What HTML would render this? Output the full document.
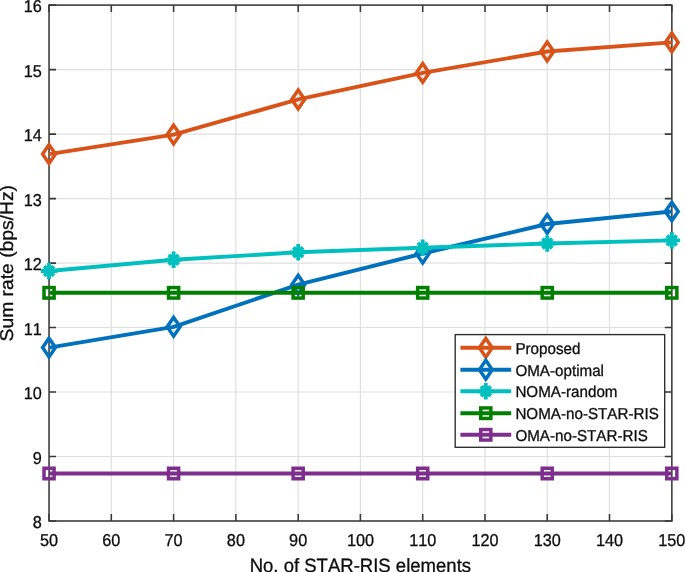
<!DOCTYPE html>
<html lang="en"><head><meta charset="utf-8"><title>Sum rate vs No. of STAR-RIS elements</title>
<style>
html,body{margin:0;padding:0;background:#fff;}
body{width:685px;height:572px;overflow:hidden;}
svg{display:block;font-kerning:none;text-rendering:geometricPrecision;font-family:"Liberation Sans",Arial,Helvetica,sans-serif;fill:#0d0d0d;}
text{stroke:#0d0d0d;stroke-width:0.3px;}
.tk{font-size:17.2px;}
.lb{font-size:19.3px;}
.lg{font-size:15.8px;}
</style></head><body>
<svg width="685" height="572" viewBox="0 0 685 572">
<rect width="685" height="572" fill="#fff"/>
<path d="M111.3 5.1V521.0M173.6 5.1V521.0M235.9 5.1V521.0M298.2 5.1V521.0M360.4 5.1V521.0M422.7 5.1V521.0M485.0 5.1V521.0M547.2 5.1V521.0M609.5 5.1V521.0M49.05 456.5H671.8M49.05 392.0H671.8M49.05 327.5H671.8M49.05 263.1H671.8M49.05 198.6H671.8M49.05 134.1H671.8M49.05 69.6H671.8" stroke="#dfdfdf" stroke-width="1.2" fill="none"/>
<path d="M49.0 521.0v-7.0M49.0 5.1v7.0M111.3 521.0v-7.0M111.3 5.1v7.0M173.6 521.0v-7.0M173.6 5.1v7.0M235.9 521.0v-7.0M235.9 5.1v7.0M298.2 521.0v-7.0M298.2 5.1v7.0M360.4 521.0v-7.0M360.4 5.1v7.0M422.7 521.0v-7.0M422.7 5.1v7.0M485.0 521.0v-7.0M485.0 5.1v7.0M547.2 521.0v-7.0M547.2 5.1v7.0M609.5 521.0v-7.0M609.5 5.1v7.0M671.8 521.0v-7.0M671.8 5.1v7.0M49.05 521.0h7.0M671.8 521.0h-7.0M49.05 456.5h7.0M671.8 456.5h-7.0M49.05 392.0h7.0M671.8 392.0h-7.0M49.05 327.5h7.0M671.8 327.5h-7.0M49.05 263.1h7.0M671.8 263.1h-7.0M49.05 198.6h7.0M671.8 198.6h-7.0M49.05 134.1h7.0M671.8 134.1h-7.0M49.05 69.6h7.0M671.8 69.6h-7.0M49.05 5.1h7.0M671.8 5.1h-7.0" stroke="#383838" stroke-width="1.55" fill="none"/>
<rect x="49.05" y="5.1" width="622.8" height="515.9" fill="none" stroke="#383838" stroke-width="1.55"/>
<text class="tk" transform="translate(49.05 546.20) scale(0.945 1)" text-anchor="middle">50</text>
<text class="tk" transform="translate(111.33 546.20) scale(0.945 1)" text-anchor="middle">60</text>
<text class="tk" transform="translate(173.60 546.20) scale(0.945 1)" text-anchor="middle">70</text>
<text class="tk" transform="translate(235.88 546.20) scale(0.945 1)" text-anchor="middle">80</text>
<text class="tk" transform="translate(298.15 546.20) scale(0.945 1)" text-anchor="middle">90</text>
<text class="tk" transform="translate(360.43 546.20) scale(0.945 1)" text-anchor="middle">100</text>
<text class="tk" transform="translate(422.70 546.20) scale(0.945 1)" text-anchor="middle">110</text>
<text class="tk" transform="translate(484.97 546.20) scale(0.945 1)" text-anchor="middle">120</text>
<text class="tk" transform="translate(547.25 546.20) scale(0.945 1)" text-anchor="middle">130</text>
<text class="tk" transform="translate(609.52 546.20) scale(0.945 1)" text-anchor="middle">140</text>
<text class="tk" transform="translate(671.80 546.20) scale(0.945 1)" text-anchor="middle">150</text>
<text class="tk" transform="translate(41.80 528.00) scale(0.945 1)" text-anchor="end">8</text>
<text class="tk" transform="translate(41.80 463.51) scale(0.945 1)" text-anchor="end">9</text>
<text class="tk" transform="translate(41.80 399.02) scale(0.945 1)" text-anchor="end">10</text>
<text class="tk" transform="translate(41.80 334.54) scale(0.945 1)" text-anchor="end">11</text>
<text class="tk" transform="translate(41.80 270.05) scale(0.945 1)" text-anchor="end">12</text>
<text class="tk" transform="translate(41.80 205.56) scale(0.945 1)" text-anchor="end">13</text>
<text class="tk" transform="translate(41.80 141.07) scale(0.945 1)" text-anchor="end">14</text>
<text class="tk" transform="translate(41.80 76.59) scale(0.945 1)" text-anchor="end">15</text>
<text class="tk" transform="translate(41.80 12.10) scale(0.945 1)" text-anchor="end">16</text>
<text class="lb" transform="translate(360.35 571.80) scale(0.961 1)" text-anchor="middle">No. of STAR-RIS elements</text>
<text class="lb" transform="translate(13.40 263.20) rotate(-90) scale(1 0.961)" text-anchor="middle">Sum rate (bps/Hz)</text>
<g><polyline points="49.0,154.1 173.6,134.6 298.2,99.4 422.7,72.9 547.2,51.5 671.8,42.4" fill="none" stroke="#d95319" stroke-width="3.9" stroke-linejoin="round"/>
<path d="M49.0 144.8L55.5 154.1L49.0 163.4L42.6 154.1Z" fill="none" stroke="#d95319" stroke-width="3.5" stroke-linejoin="miter"/>
<path d="M173.6 125.2L180.1 134.6L173.6 143.9L167.2 134.6Z" fill="none" stroke="#d95319" stroke-width="3.5" stroke-linejoin="miter"/>
<path d="M298.2 90.1L304.6 99.4L298.2 108.8L291.7 99.4Z" fill="none" stroke="#d95319" stroke-width="3.5" stroke-linejoin="miter"/>
<path d="M422.7 63.6L429.1 72.9L422.7 82.2L416.2 72.9Z" fill="none" stroke="#d95319" stroke-width="3.5" stroke-linejoin="miter"/>
<path d="M547.2 42.1L553.7 51.5L547.2 60.9L540.8 51.5Z" fill="none" stroke="#d95319" stroke-width="3.5" stroke-linejoin="miter"/>
<path d="M671.8 33.0L678.2 42.4L671.8 51.8L665.3 42.4Z" fill="none" stroke="#d95319" stroke-width="3.5" stroke-linejoin="miter"/>
</g>
<g><polyline points="49.0,347.6 173.6,326.8 298.2,284.7 422.7,253.5 547.2,224.0 671.8,211.5" fill="none" stroke="#0072bd" stroke-width="3.9" stroke-linejoin="round"/>
<path d="M49.0 338.2L55.5 347.6L49.0 357.0L42.6 347.6Z" fill="none" stroke="#0072bd" stroke-width="3.5" stroke-linejoin="miter"/>
<path d="M173.6 317.4L180.1 326.8L173.6 336.2L167.2 326.8Z" fill="none" stroke="#0072bd" stroke-width="3.5" stroke-linejoin="miter"/>
<path d="M298.2 275.3L304.6 284.7L298.2 294.1L291.7 284.7Z" fill="none" stroke="#0072bd" stroke-width="3.5" stroke-linejoin="miter"/>
<path d="M422.7 244.2L429.1 253.5L422.7 262.9L416.2 253.5Z" fill="none" stroke="#0072bd" stroke-width="3.5" stroke-linejoin="miter"/>
<path d="M547.2 214.7L553.7 224.0L547.2 233.3L540.8 224.0Z" fill="none" stroke="#0072bd" stroke-width="3.5" stroke-linejoin="miter"/>
<path d="M671.8 202.2L678.2 211.5L671.8 220.8L665.3 211.5Z" fill="none" stroke="#0072bd" stroke-width="3.5" stroke-linejoin="miter"/>
</g>
<g><polyline points="49.0,271.0 173.6,259.8 298.2,252.3 422.7,247.8 547.2,243.5 671.8,240.4" fill="none" stroke="#00bfbf" stroke-width="3.9" stroke-linejoin="round"/>
<path d="M40.8 271.0H57.3M49.0 262.7V279.3M44.1 266.1L53.9 275.9M44.1 275.9L53.9 266.1" fill="none" stroke="#00bfbf" stroke-width="3.85"/>
<path d="M165.3 259.8H181.9M173.6 251.5V268.1M168.7 254.9L178.5 264.7M168.7 264.7L178.5 254.9" fill="none" stroke="#00bfbf" stroke-width="3.85"/>
<path d="M289.9 252.3H306.5M298.2 244.0V260.6M293.3 247.4L303.1 257.2M293.3 257.2L303.1 247.4" fill="none" stroke="#00bfbf" stroke-width="3.85"/>
<path d="M414.4 247.8H431.0M422.7 239.5V256.1M417.8 242.9L427.6 252.7M417.8 252.7L427.6 242.9" fill="none" stroke="#00bfbf" stroke-width="3.85"/>
<path d="M539.0 243.5H555.5M547.2 235.2V251.8M542.4 238.6L552.1 248.4M542.4 248.4L552.1 238.6" fill="none" stroke="#00bfbf" stroke-width="3.85"/>
<path d="M663.5 240.4H680.1M671.8 232.1V248.7M666.9 235.5L676.7 245.3M666.9 245.3L676.7 235.5" fill="none" stroke="#00bfbf" stroke-width="3.85"/>
</g>
<g><polyline points="49.0,292.8 173.6,292.8 298.2,292.8 422.7,292.8 547.2,292.8 671.8,292.8" fill="none" stroke="#007f00" stroke-width="3.9" stroke-linejoin="round"/>
<rect x="44.00" y="287.55" width="10.1" height="10.5" fill="none" stroke="#007f00" stroke-width="3.5"/>
<rect x="168.55" y="287.55" width="10.1" height="10.5" fill="none" stroke="#007f00" stroke-width="3.5"/>
<rect x="293.10" y="287.55" width="10.1" height="10.5" fill="none" stroke="#007f00" stroke-width="3.5"/>
<rect x="417.65" y="287.55" width="10.1" height="10.5" fill="none" stroke="#007f00" stroke-width="3.5"/>
<rect x="542.20" y="287.55" width="10.1" height="10.5" fill="none" stroke="#007f00" stroke-width="3.5"/>
<rect x="666.75" y="287.55" width="10.1" height="10.5" fill="none" stroke="#007f00" stroke-width="3.5"/>
</g>
<g><polyline points="49.0,473.5 173.6,473.5 298.2,473.5 422.7,473.5 547.2,473.5 671.8,473.5" fill="none" stroke="#7e2f8e" stroke-width="3.9" stroke-linejoin="round"/>
<rect x="44.00" y="468.25" width="10.1" height="10.5" fill="none" stroke="#7e2f8e" stroke-width="3.5"/>
<rect x="168.55" y="468.25" width="10.1" height="10.5" fill="none" stroke="#7e2f8e" stroke-width="3.5"/>
<rect x="293.10" y="468.25" width="10.1" height="10.5" fill="none" stroke="#7e2f8e" stroke-width="3.5"/>
<rect x="417.65" y="468.25" width="10.1" height="10.5" fill="none" stroke="#7e2f8e" stroke-width="3.5"/>
<rect x="542.20" y="468.25" width="10.1" height="10.5" fill="none" stroke="#7e2f8e" stroke-width="3.5"/>
<rect x="666.75" y="468.25" width="10.1" height="10.5" fill="none" stroke="#7e2f8e" stroke-width="3.5"/>
</g>
<rect x="455.2" y="334.6" width="209.5" height="112.7" fill="#fff" stroke="#2b2b2b" stroke-width="1.35"/>
<path d="M460.4 347.8H511.2" stroke="#d95319" stroke-width="3.9" fill="none"/>
<path d="M485.8 338.4L492.2 347.8L485.8 357.2L479.4 347.8Z" fill="none" stroke="#d95319" stroke-width="3.5" stroke-linejoin="miter"/>
<text class="lg" transform="translate(515.40 353.70) scale(0.961 1)" text-anchor="start">Proposed</text>
<path d="M460.4 369.7H511.2" stroke="#0072bd" stroke-width="3.9" fill="none"/>
<path d="M485.8 360.3L492.2 369.7L485.8 379.1L479.4 369.7Z" fill="none" stroke="#0072bd" stroke-width="3.5" stroke-linejoin="miter"/>
<text class="lg" transform="translate(515.40 375.60) scale(0.961 1)" text-anchor="start">OMA-optimal</text>
<path d="M460.4 391.3H511.2" stroke="#00bfbf" stroke-width="3.9" fill="none"/>
<path d="M477.5 391.3H494.1M485.8 383.0V399.6M480.9 386.4L490.7 396.2M480.9 396.2L490.7 386.4" fill="none" stroke="#00bfbf" stroke-width="3.85"/>
<text class="lg" transform="translate(515.40 397.20) scale(0.961 1)" text-anchor="start">NOMA-random</text>
<path d="M460.4 413.2H511.2" stroke="#007f00" stroke-width="3.9" fill="none"/>
<rect x="480.75" y="407.95" width="10.1" height="10.5" fill="none" stroke="#007f00" stroke-width="3.5"/>
<text class="lg" transform="translate(515.40 419.10) scale(0.961 1)" text-anchor="start">NOMA-no-STAR-RIS</text>
<path d="M460.4 434.8H511.2" stroke="#7e2f8e" stroke-width="3.9" fill="none"/>
<rect x="480.75" y="429.55" width="10.1" height="10.5" fill="none" stroke="#7e2f8e" stroke-width="3.5"/>
<text class="lg" transform="translate(515.40 440.70) scale(0.961 1)" text-anchor="start">OMA-no-STAR-RIS</text>
</svg></body></html>
